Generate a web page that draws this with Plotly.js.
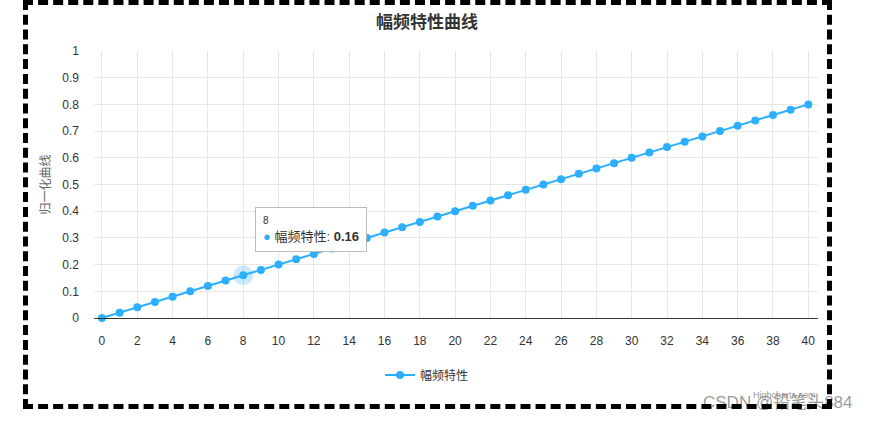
<!DOCTYPE html>
<html>
<head>
<meta charset="utf-8">
<script src="https://cdn.plot.ly/plotly-3.0.1.min.js"></script>
<style>
    body { margin: 0; background: #fff; }
    #chart { position: absolute; left: 0; top: 0; width: 873px; height: 421px; }
    #frame {
        position: absolute; left: 23px; top: 0; width: 809px; height: 409px;
        box-sizing: border-box; border: 5px dashed #000; pointer-events: none;
    }
</style>
</head>
<body>
<div id="chart"></div>
<div id="frame"></div>
<script>
// x: frequency index, y: normalized amplitude
const xValues = [0, 1, 2, 3, 4, 5, 6, 7, 8, 9, 10, 11, 12, 13, 14, 15, 16, 17, 18, 19, 20,
    21, 22, 23, 24, 25, 26, 27, 28, 29, 30, 31, 32, 33, 34, 35, 36, 37, 38, 39, 40]
const yValues = [0, 0.02, 0.04, 0.06, 0.08, 0.1, 0.12, 0.14, 0.16, 0.18, 0.2,
    0.22, 0.24, 0.26, 0.28, 0.3, 0.32, 0.34, 0.36, 0.38, 0.4,
    0.42, 0.44, 0.46, 0.48, 0.5, 0.52, 0.54, 0.56, 0.58, 0.6,
    0.62, 0.64, 0.66, 0.68, 0.7, 0.72, 0.74, 0.76, 0.78, 0.8]
const seriesName = '幅频特性'
const hoverIndex = 8

const blue = '#2caffe'
const fontFam = '"Liberation Sans", Arial, "Noto Sans CJK SC", sans-serif'

// halo around the hovered point
let halo = {
    x: [xValues[hoverIndex]],
    y: [yValues[hoverIndex]],
    mode: 'markers',
    marker: { size: 20, color: 'rgba(44,175,254,0.25)' },
    showlegend: false,
    hoverinfo: 'skip',
    cliponaxis: false
}

let series = {
    x: xValues,
    y: yValues,
    mode: 'lines+markers',
    name: seriesName,
    line: { color: blue, width: 2 },
    marker: { color: blue, size: 8 },
    cliponaxis: false
}

let layout = {
    width: 873,
    height: 421,
    margin: { l: 94, r: 55, t: 51, b: 103 },
    paper_bgcolor: 'rgba(0,0,0,0)',
    plot_bgcolor: '#fff',
    font: { family: fontFam, color: '#333', size: 12 },
    title: {
        text: '<b>幅频特性曲线</b>',
        font: { size: 17, color: '#333', family: fontFam },
        x: 0.489, xanchor: 'center',
        y: 0.948, yanchor: 'middle', yref: 'container'
    },
    xaxis: {
        range: [-0.45, 40.55],
        tickmode: 'linear', tick0: 0, dtick: 2,
        showgrid: true, gridcolor: '#e6e6e6',
        zeroline: false,
        showline: true, linecolor: '#333', linewidth: 1,
        ticks: '',
        ticklabelstandoff: 12,
        tickfont: { size: 12, color: '#333' },
        fixedrange: true
    },
    yaxis: {
        range: [0, 1],
        tickmode: 'linear', tick0: 0, dtick: 0.1,
        showgrid: true, gridcolor: '#e6e6e6',
        zeroline: false,
        showline: false,
        ticks: '',
        ticklabelstandoff: 14,
        tickfont: { size: 12, color: '#333' },
        fixedrange: true
    },
    showlegend: true,
    legend: {
        orientation: 'h',
        x: 0.46, xanchor: 'center',
        y: -0.2135, yanchor: 'middle',
        font: { size: 12, color: '#333' }
    },
    annotations: [
        {
            text: '归一化曲线',
            xref: 'paper', yref: 'paper',
            x: -0.0663, y: 0.5,
            xanchor: 'center', yanchor: 'middle',
            textangle: -90,
            showarrow: false,
            font: { size: 12, color: '#666' }
        },
        {
            // tooltip
            text: '<span style="font-size:10px">' + xValues[hoverIndex] + '</span><br>' +
                '<span style="color:' + blue + '">●</span> ' + seriesName + ': <b>' + yValues[hoverIndex] + '</b>',
            xref: 'x', yref: 'y',
            x: xValues[hoverIndex], y: yValues[hoverIndex],
            xanchor: 'center', yanchor: 'bottom',
            xshift: 68, yshift: 23,
            align: 'left',
            showarrow: false,
            bgcolor: 'rgba(255,255,255,0.97)',
            bordercolor: '#bbb',
            borderwidth: 1,
            borderpad: 7,
            font: { size: 13, color: '#333' }
        },
        {
            text: 'Highcharts.com',
            xref: 'paper', yref: 'paper',
            x: 1.0, y: -0.288,
            xanchor: 'right', yanchor: 'middle',
            showarrow: false,
            font: { size: 9, color: '#999' }
        },
        {
            text: 'CSDN @铅笔头884',
            xref: 'paper', yref: 'paper',
            x: 0.945, y: -0.315,
            xanchor: 'center', yanchor: 'middle',
            showarrow: false,
            font: { size: 17, color: 'rgba(120,120,120,0.75)' }
        }
    ]
}

Plotly.newPlot('chart', [halo, series], layout, { displayModeBar: false, staticPlot: true })
</script>
</body>
</html>
